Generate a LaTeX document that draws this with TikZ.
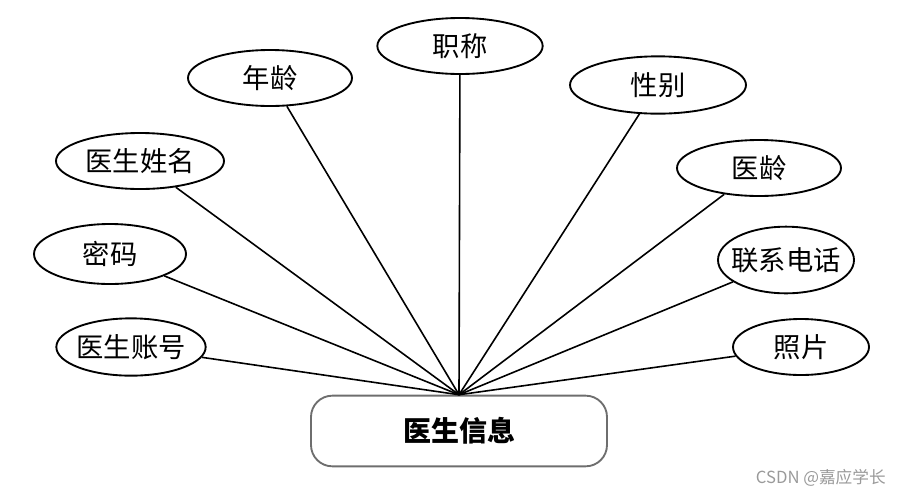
\documentclass[tikz,border=0pt]{standalone}
\usepackage{fontspec}
\newfontfamily\cjk{Noto Sans CJK SC}
\usetikzlibrary{shapes.geometric}
\definecolor{boxgrey}{HTML}{6E6E6E}
\definecolor{markgrey}{HTML}{9A9A9A}

\begin{document}
\begin{tikzpicture}[x=0.75pt, y=-0.75pt,
    every node/.style={font=\cjk\fontsize{20.5}{24}\selectfont, inner sep=0pt},
    attr/.style={draw, ellipse, line width=1.4pt},          % attribut
    entity/.style={draw=boxgrey, line width=1.4pt, rounded corners=16pt,
                   minimum width=222pt, minimum height=53pt,
                   font=\cjk\bfseries\fontsize{21}{24}\selectfont},
    link/.style={line width=1.2pt}
  ]
  \useasboundingbox (0,0) rectangle (903,497);

  % ============ entite ==================================================
  \node[entity] (info) at (459,431) {医生信息};

  % ============ attributs, a gauche =====================================
  \node[attr, inner xsep=-4pt, minimum width=112pt, minimum height=43pt] (account) at (131,347) {医生账号};
  \node[attr, minimum width=114pt, minimum height=45pt] (pwd)     at (110,254) {密码};
  \node[attr, inner xsep=-2pt, minimum width=126pt, minimum height=42pt] (name)    at (140,161) {医生姓名};
  \node[attr, minimum width=123pt, minimum height=42pt] (age)     at (270,78)  {年龄};

  % ============ attributs, en haut et a droite ==========================
  \node[attr, minimum width=124pt, minimum height=42pt] (title)   at (460,46)  {职称};
  \node[attr, minimum width=132pt, minimum height=43pt] (sex)     at (658,85)  {性别};
  \node[attr, minimum width=123pt, minimum height=42pt] (seniority) at (759,168) {医龄};
  \node[attr, inner xsep=-12pt, minimum width=102pt, minimum height=50pt] (phone) at (786,260) {联系电话};
  \node[attr, minimum width=102pt, minimum height=42pt] (photo)   at (801,347) {照片};

  % ============ liaisons ================================================
  \foreach \a in {account,pwd,name,age,title,sex,seniority,phone,photo}
    \draw[link] (info.north) -- (\a);

  \node[font=\cjk\fontsize{12.5}{14}\selectfont, text=markgrey, anchor=east]
    (mark) at (886,478) {CSDN @嘉应学长};
\end{tikzpicture}
\end{document}
